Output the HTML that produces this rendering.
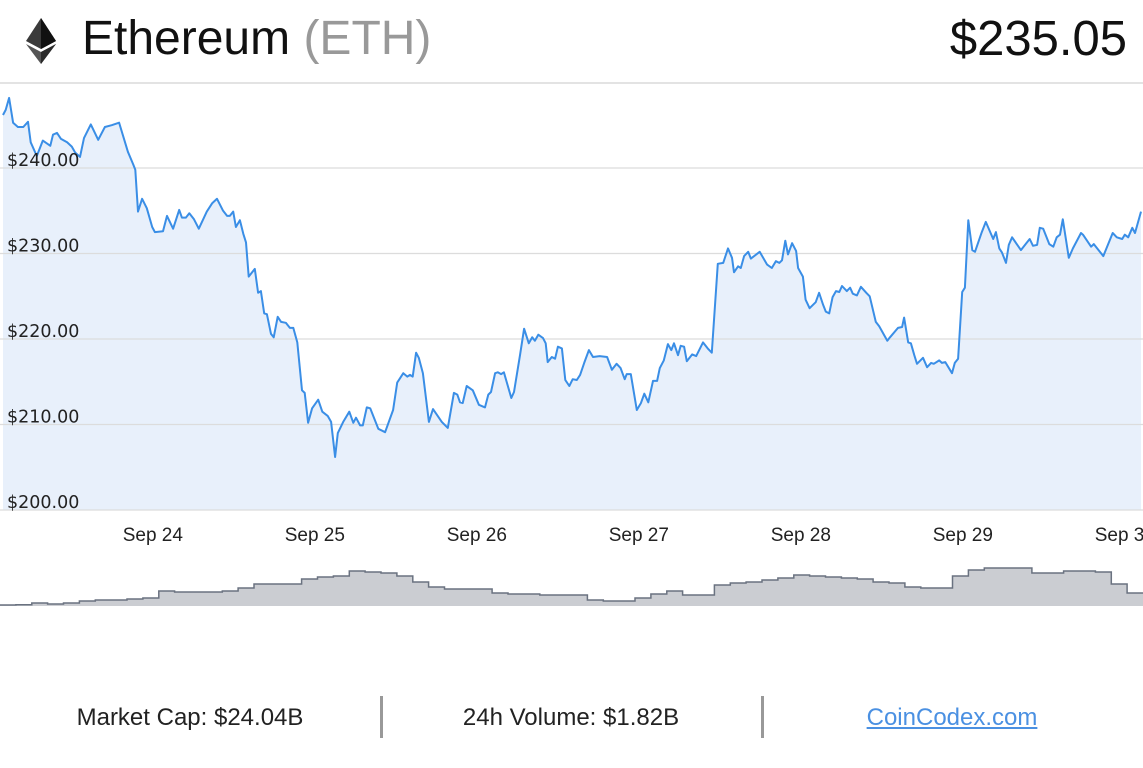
<!DOCTYPE html>
<html><head><meta charset="utf-8">
<style>
html,body{margin:0;padding:0;background:#fff;width:1143px;height:768px;overflow:hidden;font-family:"Liberation Sans",Roboto,sans-serif;}
.hdr{position:absolute;left:0;top:0;width:1143px;height:82px;border-bottom:2px solid #e3e3e3;}
.title{position:absolute;left:82px;top:11px;font-size:48px;color:#111;white-space:nowrap;}
.title span{color:#999;}
.price{position:absolute;right:16px;top:11px;font-size:49px;color:#111;}
.foot{position:absolute;top:704px;font-size:24px;color:#222;white-space:nowrap;transform:translateX(-50%);}
.sep{position:absolute;top:696px;width:3px;height:42px;background:#999;}
</style></head><body>
<div class="hdr">
  <svg style="position:absolute;left:26px;top:18px" width="30" height="46" viewBox="0 0 30 46">
    <polygon points="15,0 0,23 15,31 30,23" fill="#3a3a3a"/>
    <polygon points="15,0 15,31 30,23" fill="#111"/>
    <polygon points="0,26 15,46 30,26 15,34" fill="#555"/>
    <polygon points="15,34 15,46 30,26" fill="#2a2a2a"/>
  </svg>
  <div class="title">Ethereum <span>(ETH)</span></div>
  <div class="price">$235.05</div>
</div>
<svg id="chart" style="position:absolute;left:0;top:0" width="1143" height="620"></svg>
<div class="foot" style="left:190px">Market Cap: $24.04B</div>
<div class="sep" style="left:380px"></div>
<div class="foot" style="left:571px">24h Volume: $1.82B</div>
<div class="sep" style="left:761px"></div>
<a class="foot" style="left:952px;color:#4a90e2;text-decoration:underline">CoinCodex.com</a>
<script>
const hours=[0,.4,.9,1.5,2.2,3.0,3.7,4.1,5.0,5.9,7.0,7.4,8.0,8.6,9.5,10.2,10.7,11.4,12.0,13.0,14.1,15.1,16.1,17.2,18.5,19.3,19.6,20.0,20.6,21.3,22.1,22.5,23.7,24.3,25.2,26.1,26.5,27.1,27.6,28.3,29.0,30.2,31.0,31.7,32.6,33.2,33.6,34.1,34.5,35.1,35.6,36.0,36.4,37.3,37.8,38.2,38.7,39.1,39.7,40.1,40.7,41.2,41.9,42.5,43.0,43.6,44.3,44.7,45.2,45.8,46.7,47.3,48.1,48.6,49.2,49.6,50.4,51.3,51.9,52.3,52.9,53.3,53.9,54.4,55.6,56.6,57.8,58.4,59.3,59.9,60.3,60.7,61.2,61.6,62.2,63.1,63.7,65.0,65.9,66.8,67.3,67.7,68.1,68.7,69.6,70.5,71.4,71.9,72.3,72.9,73.3,73.8,74.2,75.3,75.7,76.6,77.2,77.9,78.4,78.8,79.3,80.0,80.4,80.7,81.3,81.8,82.2,82.8,83.3,83.9,84.4,85.0,85.5,86.1,86.8,87.4,88.4,89.5,90.2,90.9,91.5,92.1,92.4,93.0,93.9,94.5,95.0,95.6,96.3,96.9,97.3,97.9,98.5,99.0,99.4,100.0,100.4,100.9,101.3,102.1,102.7,103.7,104.4,105.0,105.9,106.7,107.4,108.0,108.3,108.9,109.3,109.8,110.4,110.8,112.1,113.2,113.9,114.5,115.0,115.4,115.9,116.3,116.9,117.5,117.8,118.5,118.9,119.5,120.4,120.9,121.5,121.9,122.4,122.9,123.4,123.9,124.3,125.0,125.5,125.9,126.5,127.1,127.9,128.4,129.3,129.8,131.0,131.4,132.6,133.2,133.5,134.1,134.5,135.0,135.4,136.3,136.9,137.5,137.9,138.7,139.1,139.6,140.6,141.0,141.5,142.1,142.5,143.0,143.6,144.0,145.0,145.6,146.7,147.1,147.6,148.0,148.6,149.0,149.5,150.8,151.6,152.1,152.6,153.2,153.6,154.1,155.0,155.6,156.1,156.6,157.0,157.9,158.5,159.7,160.0,161.2,161.6,163.0,164.4,165.0,165.8,166.2,166.7,167.3,167.7,168.6];
const prices=[246.2,246.8,248.2,245.3,244.8,244.8,245.4,243.0,241.4,243.2,242.6,243.9,244.1,243.4,243.0,242.5,241.8,241.3,243.5,245.1,243.3,244.8,245.0,245.3,241.9,240.4,239.8,234.9,236.4,235.3,233.1,232.5,232.6,234.4,232.9,235.1,234.2,234.2,234.7,234.0,232.9,234.9,235.9,236.4,235.0,234.4,234.4,234.9,233.1,233.9,232.3,231.3,227.3,228.2,225.4,225.6,223.0,222.9,220.6,220.2,222.6,222.0,221.9,221.3,221.3,219.6,214.0,213.7,210.2,211.9,212.9,211.5,211.0,210.3,206.2,209.0,210.3,211.5,210.2,210.8,209.9,209.9,212.0,211.9,209.5,209.1,211.7,214.9,216.0,215.6,215.8,215.6,218.4,217.8,216.0,210.3,211.8,210.3,209.6,213.7,213.5,212.6,212.5,214.5,214.0,212.3,212.0,213.5,213.8,216.0,216.1,215.9,216.1,213.1,213.8,218.1,221.2,219.5,220.2,219.8,220.5,220.1,219.5,217.3,217.9,217.7,219.1,218.9,215.2,214.5,215.3,215.2,215.8,217.2,218.7,217.9,218.0,217.9,216.4,217.1,216.6,215.3,215.9,215.9,211.7,212.5,213.6,212.6,215.1,215.1,216.6,217.5,219.4,218.7,219.5,218.1,219.2,219.1,217.4,218.2,218.0,219.6,218.9,218.4,228.8,228.9,230.6,229.5,227.8,228.5,228.3,229.7,230.2,229.4,230.2,228.7,228.3,229.1,228.9,229.2,231.5,229.9,231.2,230.3,228.3,227.3,224.6,223.6,224.3,225.4,224.0,223.2,223.0,224.9,225.6,225.5,226.2,225.6,226.0,225.3,225.1,226.1,225.4,225.0,222.0,221.5,219.8,220.2,221.3,221.4,222.5,219.6,219.5,218.1,217.1,217.8,216.7,217.2,217.1,217.5,217.2,217.3,216.0,217.2,217.7,225.5,226.0,233.9,230.4,230.2,232.5,233.7,231.7,232.5,230.6,230.1,228.9,231.0,231.9,230.4,231.2,231.7,230.9,231.0,233.0,232.9,231.1,230.8,231.9,232.2,234.0,229.5,230.6,232.4,232.2,230.8,231.1,229.7,232.4,231.9,231.7,232.2,231.9,233.0,232.4,234.9];
const volumes=[1,1.3,3,2,3,5,6,6,7,8,15,14,14,14,15,18,22,22,22,27,29,30,35,34,33,30,24,19,17,17,17,13,12,12,11,11,11,6,5,5,8,12,15,11,11,21,23,24,26,28,31,30,29,28,27,24,23,19,18,18,30,36,38,38,38,33,33,35,35,34,22,13];
const yTicks=[200,210,220,230,240];
const dateLabels=["Sep 24","Sep 25","Sep 26","Sep 27","Sep 28","Sep 29","Sep 30"];
const dateHours=[22.2,46.2,70.2,94.2,118.2,142.2,166.2];

const NS="http://www.w3.org/2000/svg";
const svg=document.getElementById('chart');
const X=h=>3+h*6.75;
const Y=p=>510-(p-200)*8.55;
const VB=606, VS=1.0;
function mk(t,a){const e=document.createElementNS(NS,t);for(const k in a)e.setAttribute(k,a[k]);svg.appendChild(e);return e;}

let d='M'+X(hours[0])+','+Y(200);
hours.forEach((h,i)=>{d+=' L'+X(h).toFixed(1)+','+Y(prices[i]).toFixed(1);});
d+=' L'+X(hours[hours.length-1])+','+Y(200)+' Z';
const fill=mk('path',{d:d,fill:'#e8f0fb',stroke:'none'});



yTicks.forEach(v=>{
  const g=mk('line',{x1:0,x2:1143,y1:Y(v),y2:Y(v),stroke:'#dcdcdc','stroke-width':1.2});
  
  
});
let ld='';
hours.forEach((h,i)=>{ld+=(i?' L':'M')+X(h).toFixed(1)+','+Y(prices[i]).toFixed(1);});
const line=mk('path',{d:ld,fill:'none',stroke:'#3a8ee6','stroke-width':2,'stroke-linejoin':'round'});



yTicks.forEach(v=>{
  const t=mk('text',{x:7,y:Y(v)-2,'font-size':17.5,fill:'#222','font-family':'DejaVu Sans, sans-serif'});
  t.textContent='$'+v.toFixed(2);
  
  
});
dateLabels.forEach((s,i)=>{
  const t=mk('text',{x:X(dateHours[i]),y:541,'font-size':19,fill:'#222','text-anchor':'middle','font-family':'Liberation Sans, sans-serif'});
  t.textContent=s;
  
  
});

const bw=1143/volumes.length;
let vd='M0,'+VB, vl='';
volumes.forEach((v,i)=>{const y=VB-v*VS;vd+=' L'+(i*bw).toFixed(1)+','+y+' L'+((i+1)*bw).toFixed(1)+','+y;vl+=(i?' L':'M')+(i*bw).toFixed(1)+','+y+' L'+((i+1)*bw).toFixed(1)+','+y;});
vd+=' L1143,'+VB+' Z';
const va=mk('path',{d:vd,fill:'#cbcdd2',stroke:'none'});


const vline=mk('path',{d:vl,fill:'none',stroke:'#6a7280','stroke-width':1.5});


</script>
</body></html>
